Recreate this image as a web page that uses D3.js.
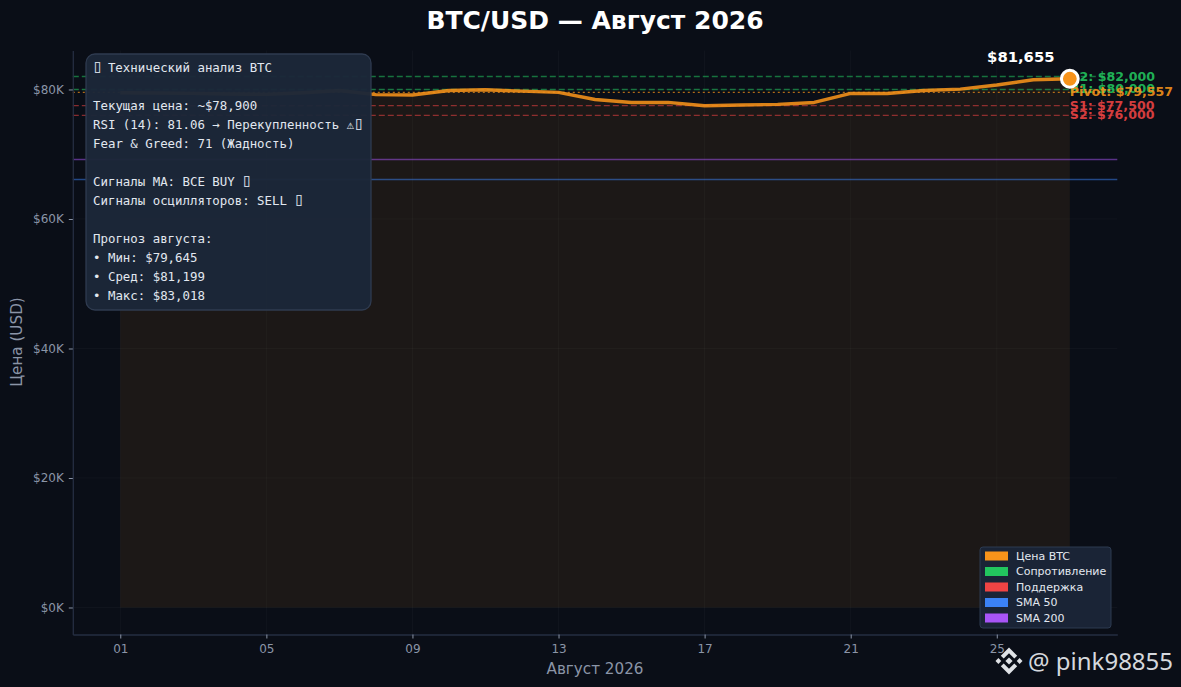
<!DOCTYPE html>
<html lang="ru">

<head>
    <meta charset="UTF-8">
    <script src="https://d3js.org/d3.v7.min.js"></script>
    <title>BTC/USD</title>
    <style>
        html, body { margin: 0; padding: 0; background: #0a0e17; overflow: hidden; }
        text { font-family: "DejaVu Sans", sans-serif; }
    </style>
</head>

<body>
    <div id="my_chart"></div>
    <script>
        // Data
        var days = [1, 2, 3, 4, 5, 6, 7, 8, 9, 10, 11, 12, 13, 14, 15, 16, 17, 18, 19, 20, 21, 22, 23, 24, 25, 26, 27];
        var prices = [79500, 79450, 79400, 79300, 79250, 79500, 79850, 79200, 79150, 79850, 79950, 79750, 79550, 78450, 78000, 78000,
            77480, 77600, 77700, 78000, 79400, 79380, 79850, 80060, 80700, 81500, 81655];
        var xTicks = [1, 5, 9, 13, 17, 21, 25];
        var yTicks = [0, 20000, 40000, 60000, 80000];

        var levelNames = ["R2", "R1", "Pivot", "S1", "S2"];
        var levelValues = [82000, 80000, 79557, 77500, 76000];
        var levelColors = ["#22c55e", "#22c55e", "#f7931a", "#ef4444", "#ef4444"];
        var levelDash = ["6,3", "6,3", "2,3", "6,3", "6,3"];

        var smaValues = [66100, 69190];
        var smaColors = ["#3b82f6", "#a855f7"];

        var legendNames = ["Цена BTC", "Сопротивление", "Поддержка", "SMA 50", "SMA 200"];
        var legendColors = ["#f7931a", "#22c55e", "#ef4444", "#3b82f6", "#a855f7"];

        var missingGlyph = "\u25AF";
        var panelLines = [
            missingGlyph + " Технический анализ BTC",
            "",
            "Текущая цена: ~$78,900",
            "RSI (14): 81.06 → Перекупленность ⚠" + missingGlyph,
            "Fear & Greed: 71 (Жадность)",
            "",
            "Сигналы MA: ВСЕ BUY " + missingGlyph,
            "Сигналы осцилляторов: SELL " + missingGlyph,
            "",
            "Прогноз августа:",
            "• Мин: $79,645",
            "• Сред: $81,199",
            "• Макс: $83,018"
        ];

        var fullWidth = 1181, fullHeight = 687;
        var plot = { left: 72.8, right: 1117.3, top: 50.5, bottom: 634.5 };

        var svg = d3.select("#my_chart")
            .append("svg")
            .attr("width", fullWidth)
            .attr("height", fullHeight)
            .style("display", "block");

        svg.append("rect")
            .attr("width", fullWidth)
            .attr("height", fullHeight)
            .attr("fill", "#0a0e17");

        var x = d3.scaleLinear().domain([-0.3, 28.3]).range([plot.left, plot.right]);
        var y = d3.scaleLinear().domain([-4170, 86020]).range([plot.bottom, plot.top]);

        // Grid
        svg.append("g").selectAll("line")
            .data(xTicks)
            .enter().append("line")
            .attr("x1", d => x(d)).attr("x2", d => x(d))
            .attr("y1", plot.top).attr("y2", plot.bottom)
            .attr("stroke", "#ffffff").attr("stroke-opacity", 0.03);
        svg.append("g").selectAll("line")
            .data(yTicks)
            .enter().append("line")
            .attr("x1", plot.left).attr("x2", plot.right)
            .attr("y1", d => y(d)).attr("y2", d => y(d))
            .attr("stroke", "#ffffff").attr("stroke-opacity", 0.03);

        // Area under the price
        var points = days.map((d, i) => [d, prices[i]]);
        svg.append("path")
            .datum(points)
            .attr("d", d3.area().x(d => x(d[0])).y0(y(0)).y1(d => y(d[1])))
            .attr("fill", "#f7931a")
            .attr("fill-opacity", 0.08);

        // SMA lines
        svg.append("g").selectAll("line")
            .data(smaValues)
            .enter().append("line")
            .attr("x1", plot.left).attr("x2", plot.right)
            .attr("y1", d => y(d)).attr("y2", d => y(d))
            .attr("stroke", (d, i) => smaColors[i])
            .attr("stroke-opacity", 0.5)
            .attr("stroke-width", 1.5);

        // Support / resistance levels
        svg.append("g").selectAll("line")
            .data(levelValues)
            .enter().append("line")
            .attr("x1", plot.left).attr("x2", plot.right)
            .attr("y1", d => y(d)).attr("y2", d => y(d))
            .attr("stroke", (d, i) => levelColors[i])
            .attr("stroke-opacity", (d, i) => levelNames[i] == "Pivot" ? 0.7 : 0.55)
            .attr("stroke-width", 1.4)
            .attr("stroke-dasharray", (d, i) => levelDash[i]);

        // Price line
        svg.append("path")
            .datum(points)
            .attr("d", d3.line().x(d => x(d[0])).y(d => y(d[1])))
            .attr("fill", "none")
            .attr("stroke", "#f7931a")
            .attr("stroke-width", 3.4)
            .attr("stroke-opacity", 0.88)
            .attr("stroke-linejoin", "round");

        // Axes
        var xAxis = svg.append("g")
            .attr("transform", "translate(0," + plot.bottom + ")")
            .call(d3.axisBottom(x).tickValues(xTicks).tickSize(4).tickSizeOuter(0).tickPadding(6)
                .tickFormat(d => d3.format("02d")(d)));
        var yAxis = svg.append("g")
            .attr("transform", "translate(" + plot.left + ",0)")
            .call(d3.axisLeft(y).tickValues(yTicks).tickSize(4).tickSizeOuter(0).tickPadding(5)
                .tickFormat(d => "$" + d / 1000 + "K"));
        [xAxis, yAxis].forEach(function (a) {
            a.selectAll("text").attr("fill", "#8b95a7").style("font-size", "12px");
            a.selectAll(".tick line").attr("stroke", "#8b95a7");
            a.select(".domain").attr("stroke", "#252e42").attr("stroke-width", 1.3);
        });

        // Titles
        svg.append("text")
            .attr("x", 595).attr("y", 29)
            .attr("text-anchor", "middle")
            .attr("fill", "#ffffff")
            .style("font-size", "25px").style("font-weight", "bold")
            .text("BTC/USD — Август 2026");
        svg.append("text")
            .attr("x", 595).attr("y", 674)
            .attr("text-anchor", "middle")
            .attr("fill", "#8b95a7")
            .style("font-size", "15.2px")
            .text("Август 2026");
        svg.append("text")
            .attr("transform", "translate(22,342) rotate(-90)")
            .attr("text-anchor", "middle")
            .attr("fill", "#8b95a7")
            .style("font-size", "15.2px")
            .text("Цена (USD)");

        // Level labels
        svg.append("g").selectAll("text")
            .data(levelValues)
            .enter().append("text")
            .attr("x", x(27))
            .attr("y", d => y(d) + 4)
            .attr("fill", (d, i) => levelColors[i])
            .attr("fill-opacity", 0.9)
            .style("font-size", "12.6px").style("font-weight", "bold")
            .text((d, i) => levelNames[i] + ": $" + d3.format(",")(d));

        // Last price marker
        svg.append("circle")
            .attr("cx", x(27)).attr("cy", y(prices[prices.length - 1]))
            .attr("r", 8.4)
            .attr("fill", "#f7931a")
            .attr("stroke", "#ffffff")
            .attr("stroke-width", 3);
        svg.append("text")
            .attr("x", x(27) - 49).attr("y", y(prices[prices.length - 1]) - 16.5)
            .attr("text-anchor", "middle")
            .attr("fill", "#ffffff")
            .style("font-size", "14.8px").style("font-weight", "bold")
            .text("$" + d3.format(",")(prices[prices.length - 1]));

        // Info panel
        svg.append("rect")
            .attr("x", 86).attr("y", 54)
            .attr("width", 285).attr("height", 256)
            .attr("rx", 9)
            .attr("fill", "#1c2739")
            .attr("fill-opacity", 0.97)
            .attr("stroke", "#2f3b50")
            .attr("stroke-width", 1.3);

        var charWidth = 7.465;
        var panelText = svg.append("g").selectAll("text")
            .data(panelLines)
            .enter().append("text")
            .attr("x", 93)
            .attr("y", (d, i) => 72 + i * 19)
            .attr("fill", "#e2e8f0")
            .style("font-family", '"DejaVu Sans Mono", monospace')
            .style("font-size", "12.4px")
            .style("white-space", "pre");

        // the missing-glyph boxes are drawn bigger than the text around them
        panelText.each(function (line) {
            var t = d3.select(this);
            var parts = line.split(missingGlyph);
            var col = 0;
            parts.forEach(function (part, k) {
                if (part) t.append("tspan").attr("x", 93 + col * charWidth).text(part);
                col += part.length;
                if (k < parts.length - 1) {
                    t.append("tspan").attr("x", 92 + col * charWidth)
                        .style("font-size", "18px").attr("fill", "#cbd3de").text(missingGlyph);
                    col += 1;
                }
            });
        });

        // Legend
        var legend = svg.append("g").attr("transform", "translate(980,547)");
        legend.append("rect")
            .attr("width", 131).attr("height", 81)
            .attr("rx", 3)
            .attr("fill", "#1a2436")
            .attr("stroke", "#2c3a50");
        var rows = legend.selectAll("g.row")
            .data(legendNames)
            .enter().append("g")
            .attr("class", "row")
            .attr("transform", (d, i) => "translate(5," + (9 + i * 15.5) + ")");
        rows.append("rect")
            .attr("y", -4.5)
            .attr("width", 23).attr("height", 9)
            .attr("fill", (d, i) => legendColors[i]);
        rows.append("text")
            .attr("x", 31).attr("y", 3.5)
            .attr("fill", "#e2e8f0")
            .style("font-size", "11px")
            .text(d => d);

        // Watermark
        var logo = svg.append("g").attr("transform", "translate(1009,661)").attr("fill", "#dfe2e6");
        var logoShapes = [
            "M0,-3.6L3.6,0L0,3.6L-3.6,0Z",
            "M-13.5,0L-10.6,-2.9L-7.7,0L-10.6,2.9Z",
            "M13.5,0L10.6,-2.9L7.7,0L10.6,2.9Z",
            "M0,-13.5L8.2,-5.3L5.3,-2.4L0,-7.7L-5.3,-2.4L-8.2,-5.3Z",
            "M0,13.5L8.2,5.3L5.3,2.4L0,7.7L-5.3,2.4L-8.2,5.3Z"
        ];
        logo.selectAll("path").data(logoShapes).enter().append("path").attr("d", d => d);
        svg.append("text")
            .attr("x", 1028).attr("y", 670)
            .attr("fill", "#d5d8dd")
            .style("font-family", '"Noto Sans", sans-serif')
            .style("font-size", "24px")
            .text("@ pink98855");
    </script>
</body>

</html>
